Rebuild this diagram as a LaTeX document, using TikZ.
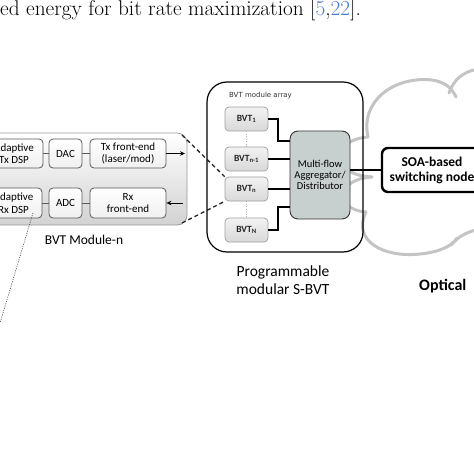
\documentclass[tikz,border=0pt]{standalone}
\usepackage{fontspec}
\usetikzlibrary{arrows.meta,calc}
\newfontfamily\carlito{Carlito}
\newfontfamily\dejavu{DejaVu Sans}
\definecolor{citeblue}{HTML}{4A7BD0}
\definecolor{aggfill}{HTML}{C8D0CF}
\definecolor{cloudgray}{HTML}{C4C4C4}
\definecolor{boxedge}{HTML}{5A5A5A}
\begin{document}
\begin{tikzpicture}[x=1pt,y=-1pt,
  outermod/.style={draw=gray!80, line width=0.8pt, rounded corners=10pt, top color=white, bottom color=gray!35, minimum width=207pt, minimum height=92pt, inner sep=0pt},
  modbox/.style={draw=boxedge, line width=0.8pt, rounded corners=4pt, top color=white, bottom color=gray!12, minimum height=29pt, inner sep=0pt, align=center, font=\carlito\fontsize{11}{12.5}\selectfont},
  bvtbox/.style={draw=gray!75, line width=0.7pt, rounded corners=4pt, top color=gray!10, bottom color=gray!30, minimum width=43pt, minimum height=24pt, inner sep=0pt, font=\carlito\bfseries\fontsize{9.5}{11}\selectfont, text=black!85},
  arraybox/.style={draw=black, line width=1.2pt, rounded corners=20pt, minimum width=156pt, minimum height=170pt, inner sep=0pt},
  aggbox/.style={draw=black!80, line width=0.9pt, rounded corners=8pt, fill=aggfill, minimum width=60pt, minimum height=88pt, inner sep=0pt, align=center, font=\carlito\fontsize{10.5}{11}\selectfont},
  soabox/.style={draw=black, line width=2.4pt, rounded corners=6pt, fill=white, minimum width=100pt, minimum height=44pt, inner sep=0pt, align=center, font=\carlito\bfseries\fontsize{13.5}{15}\selectfont},
  cloudline/.style={draw=cloudgray, line width=3pt, line cap=round},
  wire/.style={draw=black, line width=1.2pt},
  thinwire/.style={draw=boxedge, line width=0.9pt},
  dashlink/.style={draw=black!85, line width=1.3pt, dash pattern=on 4pt off 3pt},
  dotlink/.style={draw=black!70, line width=0.7pt, dash pattern=on 1pt off 1.3pt},
  tip/.style={-{Stealth[length=5pt,width=4.5pt]}}
]
\clip (0,0) rectangle (474,474);
\fill[white] (0,0) rectangle (474,474);

% caption fragment at top
\node[anchor=base west, inner sep=0pt, font=\fontsize{21.3}{24}\selectfont] (cap) at (0,15.5)
  {ed energy for bit rate maximization [\textcolor{citeblue}{5},\textcolor{citeblue}{22}].};

% ---------- cloud ----------
\path[cloudline] (368,137) .. controls (360,100) and (395,76) .. (432,80) .. controls (445,82) and (452,88) .. (456,97);
\path[cloudline] (449,93) .. controls (456,73) and (474,66) .. (495,70);
\path[cloudline] (368,137) .. controls (330,140) and (330,175) .. (372,177);
\path[cloudline] (372,177) .. controls (335,179) and (335,210) .. (366,212);
\path[cloudline] (366,212) .. controls (352,240) and (382,258) .. (420,254) .. controls (440,252) and (452,246) .. (457,238);
\path[cloudline] (451,245) .. controls (460,234) and (474,228) .. (495,228);

% ---------- BVT module (left) ----------
\node[outermod] (mod) at (83.5,179) {};
\node[modbox, minimum width=58pt] (txdsp) at (14,153.5) {Adaptive\\Tx DSP};
\node[modbox, minimum width=33pt] (dac) at (65.5,153.5) {DAC};
\node[modbox, minimum width=76pt] (txfe) at (128,153.5) {Tx front-end\\(laser/mod)};
\node[modbox, minimum width=57pt, minimum height=30pt] (rxdsp) at (13.5,203) {Adaptive\\Rx DSP};
\node[modbox, minimum width=33pt, minimum height=30pt] (adc) at (65.5,203) {ADC};
\node[modbox, minimum width=76pt, minimum height=30pt] (rxfe) at (128,203) {Rx\\front-end};
\draw[thinwire] (txdsp) -- (dac);
\draw[thinwire] (dac) -- (txfe);
\draw[thinwire] (rxdsp) -- (adc);
\draw[thinwire] (adc) -- (rxfe);
\coordinate (txout) at (185,153.5);
\coordinate (rxin) at (183,203);
\draw[line width=0.9pt, tip] (txfe.east) -- (txout);
\draw[line width=0.9pt, tip] (rxin) -- (rxfe.east);
\node[font=\carlito\fontsize{13.5}{15}\selectfont, inner sep=0pt] (modlabel) at (84,240) {BVT Module-n};

\coordinate (dotstart) at (33,213);
\coordinate (dotend) at (0,323);
\draw[dotlink] (dotstart) -- (dotend);

% ---------- S-BVT array ----------
\node[arraybox] (arr) at (285,167) {};
\node[font=\dejavu\fontsize{7}{8}\selectfont, inner sep=0pt, text=black!80] (arrlabel) at (260.5,95.5) {BVT module array};
\node[bvtbox] (b1) at (246.5,119) {BVT\textsubscript{1}};
\node[bvtbox] (bn1) at (246.5,159) {BVT\textsubscript{n-1}};
\node[bvtbox] (bn) at (246.5,189) {BVT\textsubscript{n}};
\node[bvtbox] (bN) at (246.5,230) {BVT\textsubscript{N}};
\draw[draw=gray!60, line width=0.6pt, dash pattern=on 1pt off 1.5pt] (b1.south) -- (bn1.north);
\draw[draw=gray!60, line width=0.6pt, dash pattern=on 1pt off 1.5pt] (bn.south) -- (bN.north);

\node[aggbox] (agg) at (320,175) {Multi-flow\\Aggregator/\\Distributor};
\coordinate (k1) at (278,141);
\coordinate (k2) at (278,207);
\draw[wire] (b1.east) -| (k1) -- (k1 -| agg.west);
\draw[wire] (bn1.east) -- (bn1.east -| agg.west);
\draw[wire] (bn.east) -- (bn.east -| agg.west);
\draw[wire] (bN.east) -| (k2) -- (k2 -| agg.west);

% dashed zoom lines
\coordinate (mtr) at (182,135);
\coordinate (mbr) at (182,223);
\draw[dashlink] (mtr) -- (bn.north west);
\draw[dashlink] (mbr) -- (bn.south west);

% ---------- switching node ----------
\node[soabox] (soa) at (432,170) {SOA-based\\switching node};
\draw[wire] (soa.west) -- (soa.west -| agg.east);

% ---------- labels ----------
\node[font=\carlito\fontsize{15.5}{18}\selectfont, align=center, inner sep=0pt] (prog) at (283,280) {Programmable\\modular S-BVT};
\node[font=\carlito\bfseries\fontsize{16}{18}\selectfont, anchor=west, inner sep=0pt] (optical) at (419,286) {Optical};
\end{tikzpicture}
\end{document}
